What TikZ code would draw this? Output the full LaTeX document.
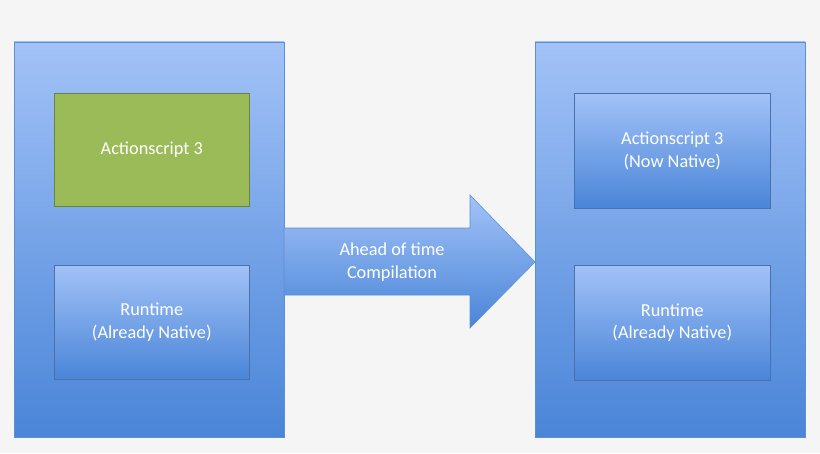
\documentclass[tikz,border=0pt]{standalone}
\usepackage{fontspec}
\setmainfont{Carlito}
\definecolor{bgcol}{HTML}{F5F5F5}
\definecolor{bluetop}{HTML}{A2C2F7}
\definecolor{bluebot}{HTML}{4A85D8}
\definecolor{edgecol}{HTML}{5B8FD6}
\definecolor{greencol}{HTML}{9BBB59}
\tikzset{
  panel/.style={draw=edgecol, top color=bluetop, bottom color=bluebot},
  label text/.style={text=white, align=center,
    font=\fontsize{13}{16}\selectfont},
  block/.style={panel, label text, draw=edgecol!80!black},
  greenblock/.style={label text, draw=greencol!70!black, fill=greencol}
}
\begin{document}
\begin{tikzpicture}[x=0.025cm,y=-0.025cm]
  \fill[bgcol] (0,0) rectangle (820,453);
  \useasboundingbox (0,0) rectangle (820,453);
  % big panels
  \path[panel] (14,42) rectangle (284,437);
  \path[panel] (535,42) rectangle (805,437);
  % arrow
  \path[panel] (284,228) -- (470,228) -- (470,195) -- (535,262) -- (470,328)
    -- (470,295) -- (284,295) -- cycle;
  \node[label text] (aot) at (392,262) {Ahead of time\\Compilation};
  % left blocks
  \node[greenblock, minimum width=195*0.025cm, minimum height=113*0.025cm,
    anchor=north west] (as) at (54,93) {Actionscript 3};
  \node[block, minimum width=195*0.025cm, minimum height=114*0.025cm,
    anchor=north west] (rtl) at (54,265) {Runtime\\(Already Native)};
  % right blocks
  \node[block, minimum width=196*0.025cm, minimum height=115*0.025cm,
    anchor=north west] (asn) at (574,93) {Actionscript 3\\(Now Native)};
  \node[block, minimum width=196*0.025cm, minimum height=115*0.025cm,
    anchor=north west] (rtr) at (574,265) {Runtime\\(Already Native)};
\end{tikzpicture}
\end{document}
